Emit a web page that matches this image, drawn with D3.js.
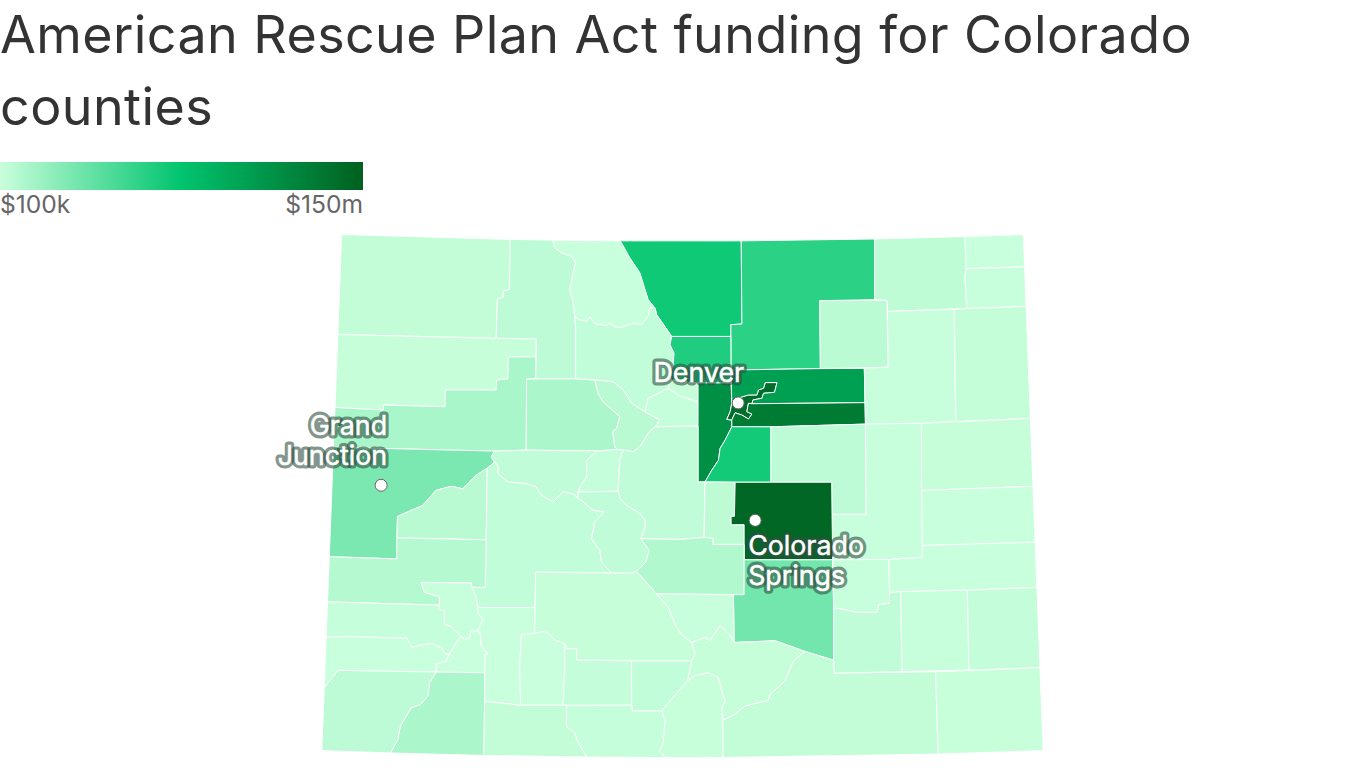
<!DOCTYPE html>
<html>
<head>
<meta charset="utf-8">
<style>
  html, body { margin: 0; padding: 0; background: #fff; overflow: hidden; }
  text { font-family: Inter, "Noto Sans", sans-serif; }
</style>
</head>
<body>
<div id="chart"></div>
<script src="https://d3js.org/d3.v7.min.js"></script>
<script>
// title and legend text
var titleLines = ["American Rescue Plan Act funding for Colorado", "counties"];
var legendLabels = ["$100k", "$150m"];

// funding in $ millions, estimated from the fill colours
var colorDomain = [0.1, 75, 150];
var colorRange = ["#c9ffdc", "#00c46e", "#00601f"];

var countyNames = ["Moffat", "Routt", "Jackson", "Larimer", "Weld", "Logan", "Sedgwick", "Phillips",
  "Rio Blanco", "Garfield", "Eagle", "Grand", "Summit", "Clear Creek", "Gilpin", "Boulder",
  "Jefferson", "Denver", "Adams", "Arapahoe", "Morgan", "Washington", "Yuma", "Douglas",
  "Elbert", "Lincoln", "Kit Carson", "Cheyenne", "Mesa", "Pitkin", "Lake", "Park",
  "Teller", "El Paso", "Delta", "Gunnison", "Chaffee", "Fremont", "Pueblo", "Crowley",
  "Kiowa", "Otero", "Bent", "Prowers", "Montrose", "Ouray", "San Miguel", "Dolores",
  "San Juan", "Hinsdale", "Saguache", "Mineral", "Rio Grande", "Custer", "Huerfano", "Alamosa",
  "Costilla", "Conejos", "Archuleta", "La Plata", "Montezuma", "Las Animas", "Baca"];

var countyValues = [2.5, 5, 0.3, 69, 59, 4.3, 0.4, 0.8,
  1.2, 12, 11, 3, 6, 1.8, 1.2, 63,
  114, 140, 102, 130, 5.5, 0.9, 1.9, 68,
  5, 1, 1.4, 0.4, 29, 3.3, 1.5, 3.4,
  4.7, 145, 6, 3, 3.8, 9, 32, 1,
  0.3, 3.5, 1, 2.3, 8, 0.9, 1.6, 0.4,
  0.15, 0.2, 1.3, 0.1, 2.2, 0.9, 1.3, 3,
  0.7, 1.6, 2.7, 11, 5, 2.8, 0.7];

// county outlines as [lon, lat], same order as countyNames
var countyRings = [
  // Moffat
  [[-109.05,41],[-107.32,41],[-107.317,40.611],[-107.378,40.6],[-107.378,40.548],[-107.438,40.539],[-107.442,40.232],[-109.05,40.225]],
  // Routt
  [[-107.32,41],[-106.881,41],[-106.862,40.941],[-106.793,40.903],[-106.689,40.877],[-106.644,40.826],[-106.671,40.748],[-106.702,40.618],[-106.667,40.528],[-106.648,40.412],[-106.636,40.334],[-106.63,39.928],[-107.035,39.923],[-107.035,40.232],[-107.442,40.232],[-107.438,40.539],[-107.378,40.548],[-107.378,40.6],[-107.317,40.611]],
  // Jackson
  [[-106.881,41],[-106.194,41],[-106.176,40.985],[-106.09,40.869],[-105.986,40.753],[-105.9,40.546],[-105.831,40.482],[-105.882,40.481],[-105.899,40.416],[-105.966,40.351],[-106.052,40.359],[-106.17,40.329],[-106.238,40.332],[-106.29,40.363],[-106.323,40.342],[-106.443,40.357],[-106.494,40.408],[-106.528,40.374],[-106.603,40.386],[-106.648,40.412],[-106.667,40.528],[-106.702,40.618],[-106.671,40.748],[-106.644,40.826],[-106.689,40.877],[-106.793,40.903],[-106.862,40.941]],
  // Larimer
  [[-106.194,41],[-104.947,41],[-104.946,40.356],[-105.058,40.351],[-105.059,40.26],[-105.66,40.261],[-105.813,40.429],[-105.831,40.482],[-105.9,40.546],[-105.986,40.753],[-106.09,40.869],[-106.176,40.985]],
  // Weld
  [[-104.947,41],[-103.577,41],[-103.591,40.53],[-104.15,40.53],[-104.155,40.004],[-105.059,40],[-105.058,40.351],[-104.946,40.356]],
  // Logan
  [[-103.577,41],[-102.649,41],[-102.65,40.75],[-102.663,40.693],[-102.656,40.442],[-103.464,40.437],[-103.465,40.523],[-103.591,40.53]],
  // Sedgwick
  [[-102.649,41],[-102.05,41],[-102.05,40.75],[-102.65,40.75]],
  // Phillips
  [[-102.65,40.75],[-102.05,40.75],[-102.05,40.443],[-102.656,40.442],[-102.663,40.693]],
  // Rio Blanco
  [[-109.05,40.225],[-107.442,40.232],[-107.035,40.232],[-107.035,40.094],[-107.313,40.09],[-107.316,39.919],[-107.427,39.91],[-107.431,39.832],[-107.944,39.823],[-107.943,39.693],[-108.564,39.692],[-108.562,39.653],[-108.91,39.657],[-109.05,39.66]],
  // Garfield
  [[-107.035,40.094],[-107.035,39.923],[-107.126,39.92],[-107.117,39.37],[-107.435,39.358],[-109.05,39.351],[-109.05,39.66],[-108.91,39.657],[-108.562,39.653],[-108.564,39.692],[-107.943,39.693],[-107.944,39.823],[-107.431,39.832],[-107.427,39.91],[-107.316,39.919],[-107.313,40.09]],
  // Eagle
  [[-107.126,39.92],[-107.035,39.923],[-106.63,39.928],[-106.437,39.921],[-106.402,39.818],[-106.351,39.753],[-106.181,39.638],[-106.213,39.547],[-106.253,39.521],[-106.229,39.404],[-106.202,39.384],[-106.4,39.372],[-107.117,39.37]],
  // Grand
  [[-106.648,40.412],[-106.603,40.386],[-106.528,40.374],[-106.494,40.408],[-106.443,40.357],[-106.323,40.342],[-106.29,40.363],[-106.238,40.332],[-106.17,40.329],[-106.052,40.359],[-105.966,40.351],[-105.899,40.416],[-105.882,40.481],[-105.831,40.482],[-105.813,40.429],[-105.66,40.261],[-105.677,40.197],[-105.636,40.132],[-105.643,40.054],[-105.667,39.925],[-105.694,39.86],[-105.896,39.782],[-105.929,39.678],[-106.064,39.742],[-106.149,39.845],[-106.251,39.909],[-106.437,39.921],[-106.63,39.928],[-106.636,40.334]],
  // Summit
  [[-106.437,39.921],[-106.251,39.909],[-106.149,39.845],[-106.064,39.742],[-105.929,39.678],[-105.777,39.614],[-105.827,39.561],[-105.895,39.51],[-105.978,39.406],[-106.045,39.367],[-106.145,39.379],[-106.202,39.384],[-106.229,39.404],[-106.253,39.521],[-106.213,39.547],[-106.181,39.638],[-106.351,39.753],[-106.402,39.818]],
  // Clear Creek
  [[-105.929,39.678],[-105.896,39.782],[-105.694,39.86],[-105.575,39.8],[-105.393,39.754],[-105.394,39.567],[-105.827,39.561],[-105.777,39.614]],
  // Gilpin
  [[-105.694,39.86],[-105.667,39.925],[-105.393,39.901],[-105.393,39.754],[-105.575,39.8]],
  // Boulder
  [[-105.66,40.261],[-105.059,40.26],[-105.059,39.9],[-105.393,39.901],[-105.667,39.925],[-105.643,40.054],[-105.636,40.132],[-105.677,40.197]],
  // Jefferson
  [[-105.393,39.901],[-105.059,39.9],[-105.053,39.743],[-105.07,39.677],[-105.104,39.618],[-105.054,39.613],[-105.054,39.561],[-105.122,39.458],[-105.173,39.393],[-105.19,39.302],[-105.257,39.225],[-105.325,39.134],[-105.395,39.134],[-105.394,39.567],[-105.393,39.754]],
  // Denver
  [[-104.85,39.738],[-104.84,39.767],[-104.749,39.78],[-104.732,39.818],[-104.621,39.825],[-104.595,39.9],[-104.714,39.901],[-104.732,39.857],[-104.783,39.844],[-104.799,39.806],[-104.884,39.806],[-105.019,39.776],[-105.053,39.743],[-105.07,39.677],[-105.104,39.618],[-105.054,39.613],[-105.02,39.669],[-104.952,39.651],[-104.886,39.62],[-104.851,39.658],[-104.902,39.677],[-104.885,39.742]],
  // Adams
  [[-105.059,40],[-104.155,40.004],[-103.71,40],[-103.71,39.734],[-104.85,39.738],[-104.84,39.767],[-104.749,39.78],[-104.732,39.818],[-104.621,39.825],[-104.595,39.9],[-104.714,39.901],[-104.732,39.857],[-104.783,39.844],[-104.799,39.806],[-104.884,39.806],[-105.019,39.776],[-105.053,39.743]],
  // Arapahoe
  [[-103.71,39.734],[-103.71,39.568],[-104.661,39.558],[-105.054,39.561],[-105.054,39.613],[-105.02,39.669],[-104.952,39.651],[-104.886,39.62],[-104.851,39.658],[-104.902,39.677],[-104.885,39.742],[-104.85,39.738]],
  // Morgan
  [[-104.15,40.53],[-103.465,40.523],[-103.468,40.005],[-104.155,40.004]],
  // Washington
  [[-103.464,40.437],[-102.783,40.44],[-102.801,39.569],[-103.147,39.564],[-103.71,39.568],[-103.71,39.734],[-103.71,40],[-103.468,40.005]],
  // Yuma
  [[-102.783,40.44],[-102.656,40.442],[-102.05,40.443],[-102.05,39.575],[-102.801,39.569]],
  // Douglas
  [[-105.054,39.561],[-104.661,39.558],[-104.666,39.129],[-105.024,39.131],[-105.325,39.134],[-105.257,39.225],[-105.19,39.302],[-105.173,39.393],[-105.122,39.458]],
  // Elbert
  [[-104.661,39.558],[-103.71,39.568],[-103.721,38.869],[-104.061,38.874],[-104.059,39.123],[-104.666,39.129]],
  // Lincoln
  [[-103.71,39.568],[-103.147,39.564],[-103.163,39.045],[-103.17,38.618],[-103.173,38.527],[-103.506,38.516],[-104.062,38.522],[-104.061,38.874],[-103.721,38.869]],
  // Kit Carson
  [[-103.147,39.564],[-102.801,39.569],[-102.05,39.575],[-102.05,39.048],[-103.163,39.045]],
  // Cheyenne
  [[-103.163,39.045],[-102.05,39.048],[-102.05,38.615],[-103.17,38.618]],
  // Mesa
  [[-109.05,39.351],[-107.435,39.358],[-107.467,39.313],[-107.433,39.272],[-107.505,39.224],[-107.614,39.168],[-107.745,39.062],[-107.861,39.078],[-108.01,39.044],[-108.14,38.924],[-108.387,38.833],[-108.383,38.504],[-109.05,38.503]],
  // Pitkin
  [[-107.435,39.358],[-107.117,39.37],[-106.4,39.372],[-106.512,39.299],[-106.51,39.167],[-106.576,39.089],[-106.593,39.052],[-106.592,39.001],[-106.643,39.039],[-106.743,39.051],[-106.842,38.972],[-106.959,39.023],[-107.01,39.086],[-107.111,39.111],[-107.295,39.121],[-107.397,39.185],[-107.399,39.25],[-107.433,39.272],[-107.467,39.313]],
  // Lake
  [[-106.4,39.372],[-106.202,39.384],[-106.145,39.379],[-106.178,39.301],[-106.193,39.06],[-106.593,39.052],[-106.576,39.089],[-106.51,39.167],[-106.512,39.299]],
  // Park
  [[-105.827,39.561],[-105.394,39.567],[-105.395,39.134],[-105.325,39.134],[-105.336,38.705],[-105.575,38.689],[-105.963,38.694],[-105.924,38.784],[-105.924,38.836],[-105.974,38.888],[-106.108,38.952],[-106.175,39.004],[-106.193,39.06],[-106.178,39.301],[-106.145,39.379],[-106.045,39.367],[-105.978,39.406],[-105.895,39.51]],
  // Teller
  [[-105.325,39.134],[-105.024,39.131],[-105.033,38.867],[-105.066,38.867],[-105.066,38.802],[-104.937,38.802],[-104.938,38.649],[-105.247,38.65],[-105.246,38.697],[-105.336,38.705]],
  // El Paso
  [[-105.024,39.131],[-104.666,39.129],[-104.059,39.123],[-104.061,38.874],[-104.062,38.522],[-104.939,38.53],[-104.938,38.649],[-104.937,38.802],[-105.066,38.802],[-105.066,38.867],[-105.033,38.867]],
  // Delta
  [[-107.505,39.224],[-107.614,39.168],[-107.745,39.062],[-107.861,39.078],[-108.01,39.044],[-108.14,38.924],[-108.387,38.833],[-108.386,38.667],[-107.499,38.67]],
  // Gunnison
  [[-107.505,39.224],[-107.433,39.272],[-107.399,39.25],[-107.397,39.185],[-107.295,39.121],[-107.111,39.111],[-107.01,39.086],[-106.959,39.023],[-106.842,38.972],[-106.743,39.051],[-106.643,39.039],[-106.592,39.001],[-106.558,38.988],[-106.441,38.911],[-106.331,38.899],[-106.423,38.82],[-106.454,38.691],[-106.37,38.601],[-106.352,38.51],[-106.252,38.428],[-107.003,38.426],[-107.004,38.152],[-107.567,38.145],[-107.586,38.223],[-107.631,38.3],[-107.499,38.302],[-107.499,38.67]],
  // Chaffee
  [[-106.593,39.052],[-106.193,39.06],[-106.175,39.004],[-106.108,38.952],[-105.974,38.888],[-105.924,38.836],[-105.924,38.784],[-105.963,38.694],[-105.88,38.603],[-105.915,38.512],[-106.004,38.44],[-106.071,38.426],[-106.252,38.428],[-106.352,38.51],[-106.37,38.601],[-106.454,38.691],[-106.423,38.82],[-106.331,38.899],[-106.441,38.911],[-106.558,38.988],[-106.592,39.001]],
  // Fremont
  [[-105.963,38.694],[-105.575,38.689],[-105.336,38.705],[-105.246,38.697],[-105.247,38.65],[-104.938,38.649],[-104.939,38.53],[-104.942,38.26],[-105.047,38.261],[-105.805,38.267],[-106.004,38.44],[-105.915,38.512],[-105.88,38.603]],
  // Pueblo
  [[-105.047,38.261],[-104.942,38.26],[-104.939,38.53],[-104.062,38.522],[-104.06,38.151],[-104.069,37.745],[-104.346,37.815],[-104.639,37.901],[-105.043,37.89]],
  // Crowley
  [[-104.062,38.522],[-103.506,38.516],[-103.506,38.261],[-103.509,38.176],[-103.615,38.168],[-103.632,38.108],[-103.83,38.111],[-103.945,38.134],[-104.06,38.151]],
  // Kiowa
  [[-103.506,38.516],[-103.173,38.527],[-103.17,38.618],[-102.05,38.615],[-102.05,38.264],[-102.737,38.263],[-103.397,38.265],[-103.506,38.261]],
  // Otero
  [[-104.06,38.151],[-103.945,38.134],[-103.83,38.111],[-103.632,38.108],[-103.615,38.168],[-103.509,38.176],[-103.506,38.261],[-103.397,38.265],[-103.4,37.645],[-104.064,37.644],[-104.069,37.745]],
  // Bent
  [[-103.397,38.265],[-102.737,38.263],[-102.746,37.644],[-103.4,37.645]],
  // Prowers
  [[-102.737,38.263],[-102.05,38.264],[-102.05,37.642],[-102.746,37.644]],
  // Montrose
  [[-109.05,38.503],[-108.383,38.504],[-108.386,38.667],[-107.499,38.67],[-107.499,38.302],[-107.631,38.3],[-107.638,38.334],[-108.134,38.328],[-108.098,38.251],[-107.949,38.221],[-107.946,38.156],[-109.05,38.153]],
  // Ouray
  [[-108.134,38.328],[-107.638,38.334],[-107.631,38.3],[-107.586,38.223],[-107.567,38.145],[-107.566,38.096],[-107.516,38.056],[-107.562,37.964],[-107.627,37.963],[-107.642,37.911],[-107.691,37.892],[-107.731,37.922],[-107.819,37.99],[-107.892,38.01],[-107.896,38.113],[-107.945,38.118],[-107.946,38.156],[-107.949,38.221],[-108.098,38.251]],
  // San Miguel
  [[-109.05,38.153],[-107.946,38.156],[-107.945,38.118],[-107.896,38.113],[-107.892,38.01],[-107.819,37.99],[-107.731,37.922],[-107.772,37.869],[-107.835,37.778],[-107.868,37.777],[-107.918,37.827],[-108.002,37.857],[-108.116,37.844],[-108.208,37.821],[-108.256,37.893],[-108.825,37.89],[-109.05,37.881]],
  // Dolores
  [[-109.05,37.881],[-108.825,37.89],[-108.256,37.893],[-108.208,37.821],[-108.116,37.844],[-108.002,37.857],[-107.918,37.827],[-107.868,37.777],[-107.835,37.778],[-107.866,37.725],[-107.963,37.697],[-107.961,37.637],[-108.92,37.626],[-109.05,37.487]],
  // San Juan
  [[-107.731,37.922],[-107.691,37.892],[-107.642,37.911],[-107.627,37.963],[-107.562,37.964],[-107.538,37.941],[-107.525,37.848],[-107.459,37.785],[-107.484,37.784],[-107.487,37.641],[-107.961,37.637],[-107.963,37.697],[-107.866,37.725],[-107.835,37.778],[-107.772,37.869]],
  // Hinsdale
  [[-107.567,38.145],[-107.004,38.152],[-107.003,37.952],[-107.134,37.94],[-107.145,37.686],[-107.128,37.394],[-107.481,37.419],[-107.487,37.641],[-107.484,37.784],[-107.459,37.785],[-107.525,37.848],[-107.538,37.941],[-107.562,37.964],[-107.516,38.056],[-107.566,38.096]],
  // Saguache
  [[-107.003,38.426],[-106.252,38.428],[-106.071,38.426],[-106.004,38.44],[-105.805,38.267],[-105.69,38.163],[-105.607,38.008],[-105.558,37.951],[-105.459,37.891],[-105.427,37.801],[-105.46,37.749],[-106.049,37.748],[-106.589,37.75],[-106.588,37.837],[-106.689,37.837],[-106.706,37.873],[-106.805,37.905],[-106.888,37.966],[-106.937,37.966],[-107.003,37.952],[-107.004,38.152]],
  // Mineral
  [[-107.134,37.94],[-107.003,37.952],[-106.937,37.966],[-106.888,37.966],[-106.805,37.905],[-106.706,37.873],[-106.703,37.665],[-106.715,37.399],[-107.128,37.394],[-107.145,37.686]],
  // Rio Grande
  [[-106.706,37.873],[-106.689,37.837],[-106.588,37.837],[-106.589,37.75],[-106.049,37.748],[-106.046,37.404],[-106.682,37.399],[-106.715,37.399],[-106.703,37.665]],
  // Custer
  [[-105.805,38.267],[-105.047,38.261],[-105.043,37.89],[-105.082,37.942],[-105.18,38.02],[-105.279,37.904],[-105.328,37.93],[-105.459,37.891],[-105.558,37.951],[-105.607,38.008],[-105.69,38.163]],
  // Huerfano
  [[-105.459,37.891],[-105.328,37.93],[-105.279,37.904],[-105.18,38.02],[-105.082,37.942],[-105.043,37.89],[-104.639,37.901],[-104.346,37.815],[-104.462,37.744],[-104.546,37.589],[-104.694,37.487],[-104.711,37.44],[-104.939,37.398],[-105.037,37.334],[-105.135,37.295],[-105.158,37.295],[-105.167,37.385],[-105.134,37.437],[-105.166,37.515],[-105.199,37.619],[-105.297,37.658],[-105.427,37.632],[-105.503,37.594],[-105.46,37.749],[-105.427,37.801]],
  // Alamosa
  [[-106.049,37.748],[-105.46,37.749],[-105.503,37.594],[-105.753,37.361],[-106.04,37.359],[-106.046,37.404]],
  // Costilla
  [[-105.503,37.594],[-105.427,37.632],[-105.297,37.658],[-105.199,37.619],[-105.166,37.515],[-105.134,37.437],[-105.167,37.385],[-105.158,37.295],[-105.155,37],[-105.72,37],[-105.769,37.05],[-105.737,37.127],[-105.721,37.283],[-105.753,37.361]],
  // Conejos
  [[-106.682,37.399],[-106.046,37.404],[-106.04,37.359],[-105.753,37.361],[-105.721,37.283],[-105.737,37.127],[-105.769,37.05],[-105.72,37],[-106.481,37],[-106.58,37.136],[-106.597,37.187],[-106.679,37.23]],
  // Archuleta
  [[-107.481,37.419],[-107.128,37.394],[-106.715,37.399],[-106.682,37.399],[-106.679,37.23],[-106.597,37.187],[-106.58,37.136],[-106.481,37],[-107.481,37]],
  // La Plata
  [[-107.961,37.637],[-107.487,37.641],[-107.481,37.419],[-107.481,37],[-108.384,37],[-108.317,37.106],[-108.295,37.21],[-108.196,37.355],[-108.106,37.383],[-108.037,37.449],[-108.024,37.553]],
  // Montezuma
  [[-108.92,37.626],[-107.961,37.637],[-108.024,37.553],[-108.037,37.449],[-108.106,37.383],[-108.196,37.355],[-108.295,37.21],[-108.317,37.106],[-108.384,37],[-109.05,37],[-109.05,37.487]],
  // Las Animas
  [[-104.346,37.815],[-104.069,37.745],[-104.064,37.644],[-103.073,37.638],[-103.07,37],[-105.155,37],[-105.158,37.295],[-105.135,37.295],[-105.037,37.334],[-104.939,37.398],[-104.711,37.44],[-104.694,37.487],[-104.546,37.589],[-104.462,37.744]],
  // Baca
  [[-103.073,37.638],[-102.05,37.642],[-102.05,37],[-103.07,37]]
];

// cities as lon, lat and label lines
var cityNames = [["Denver"], ["Grand", "Junction"], ["Colorado", "Springs"]];
var cityCoords = [[-104.989, 39.745], [-108.56, 39.07], [-104.827, 38.835]];

var svgWidth = 1366;
var svgHeight = 768;

var svg = d3.select("#chart")
  .append("svg")
  .attr("width", svgWidth)
  .attr("height", svgHeight)
  .style("display", "block");

// title
svg.selectAll(".title")
  .data(titleLines)
  .enter()
  .append("text")
  .attr("class", "title")
  .attr("x", 0)
  .attr("y", (d, i) => 53 + i * 72)
  .attr("font-size", "52px")
  .attr("letter-spacing", "0.42px")
  .attr("fill", "#333333")
  .text(d => d);

// colour scale + legend
var color = d3.scaleLinear().domain(colorDomain).range(colorRange);

var legendX = d3.scaleLinear().domain([colorDomain[0], colorDomain[2]]).range([0, 363]);

var gradient = svg.append("defs").append("linearGradient")
  .attr("id", "legend-gradient");

gradient.selectAll("stop")
  .data(colorDomain)
  .enter()
  .append("stop")
  .attr("offset", d => legendX(d) / 363)
  .attr("stop-color", d => color(d));

svg.append("rect")
  .attr("x", 0)
  .attr("y", 162)
  .attr("width", 363)
  .attr("height", 28)
  .attr("fill", "url(#legend-gradient)");

svg.selectAll(".legend-label")
  .data(legendLabels)
  .enter()
  .append("text")
  .attr("class", "legend-label")
  .attr("x", (d, i) => i === 0 ? 0 : 363)
  .attr("y", 213)
  .attr("text-anchor", (d, i) => i === 0 ? "start" : "end")
  .attr("font-size", "24.6px")
  .attr("fill", "#666666")
  .text(d => d);

// map
var projection = d3.geoConicEqualArea()
  .parallels([37, 41])
  .rotate([105.55, 0])
  .center([0, 39])
  .scale(7395)
  .translate([682.5, 499.3]);

var path = d3.geoPath(projection);

var counties = countyRings.map(function(ring, i) {
  var feature = {
    type: "Feature",
    properties: { name: countyNames[i], value: countyValues[i] },
    geometry: { type: "Polygon", coordinates: [ring.concat([ring[0]])] }
  };
  // d3 wants clockwise rings
  if (d3.geoArea(feature) > 2 * Math.PI) feature.geometry.coordinates[0].reverse();
  return feature;
});

svg.append("g")
  .selectAll("path")
  .data(counties)
  .enter()
  .append("path")
  .attr("d", path)
  .attr("fill", d => color(d.properties.value))
  .attr("stroke", "#ffffff")
  .attr("stroke-width", 1)
  .attr("stroke-linejoin", "round");

// city dots
var cities = cityNames.map((lines, i) => ({ lines: lines, pos: projection(cityCoords[i]) }));

svg.append("g")
  .selectAll("circle")
  .data(cities)
  .enter()
  .append("circle")
  .attr("cx", d => d.pos[0])
  .attr("cy", d => d.pos[1])
  .attr("r", 6)
  .attr("fill", "#ffffff")
  .attr("stroke", "#666666")
  .attr("stroke-width", 1);

// city labels, offsets from the dot
var labelOffsets = [[6, -21], [6, -50], [-7, 35]];
var labelAnchors = ["end", "end", "start"];

cities.forEach(function(city, i) {
  city.lines.forEach(function(line, j) {
    var lx = city.pos[0] + labelOffsets[i][0];
    var ly = city.pos[1] + labelOffsets[i][1] + j * 30;
    // soft grey halo, then a tighter dark edge under the white text
    svg.append("text")
      .attr("x", lx)
      .attr("y", ly)
      .attr("text-anchor", labelAnchors[i])
      .attr("font-size", "26.8px")
      .attr("fill", "none")
      .attr("stroke", "#2f4f40")
      .attr("stroke-opacity", 0.6)
      .attr("stroke-width", 7)
      .attr("stroke-linejoin", "round")
      .text(line);
    svg.append("text")
      .attr("x", lx)
      .attr("y", ly)
      .attr("text-anchor", labelAnchors[i])
      .attr("font-size", "26.8px")
      .attr("fill", "#ffffff")
      .attr("stroke", "#ffffff")
      .attr("stroke-width", 0.5)
      .text(line);
  });
});
</script>
</body>
</html>
